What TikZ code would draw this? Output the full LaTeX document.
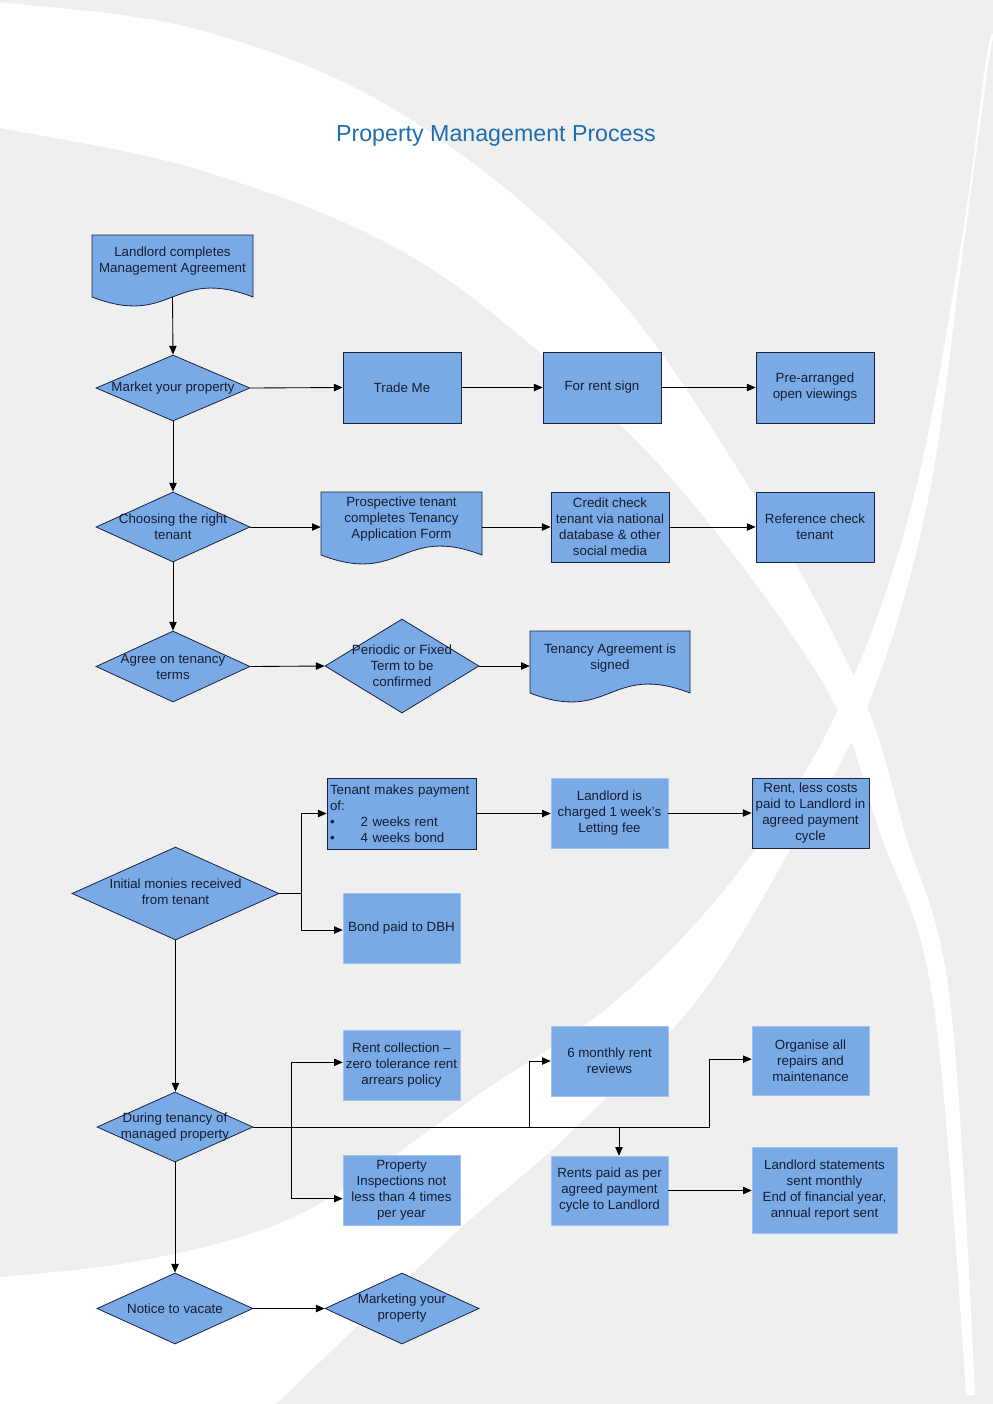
\documentclass[tikz,border=0pt]{standalone}
\usepackage{fontspec}
\setmainfont{Liberation Sans}
\usetikzlibrary{shapes.geometric,arrows.meta,calc}
\definecolor{bg}{RGB}{239,239,239}
\definecolor{boxblue}{RGB}{122,170,230}
\definecolor{navy}{RGB}{25,35,65}
\definecolor{txt}{RGB}{20,28,50}
\definecolor{edgeblue}{RGB}{160,195,240}
\definecolor{titleblue}{RGB}{30,110,175}
\newcommand{\docpath}[4]{%
  \draw[docshape] (#1,#3) -- (#2,#3) -- (#2,#4)
    .. controls ({(#1+#2)/2},{#4-31}) and ({(#1+#2)/2},{#4+31}) .. (#1,#4) -- cycle;}
\begin{document}
\begin{tikzpicture}[x=0.75pt,y=-0.75pt,
  base/.style={font=\fontsize{10}{12}\selectfont, text=txt, align=center, inner sep=0pt},
  sz/.style 2 args={minimum width=#1*0.75pt, minimum height=#2*0.75pt},
  bbox/.style={base, rectangle, fill=boxblue, draw=navy, line width=0.6pt},
  nbox/.style={base, rectangle, fill=boxblue, draw=edgeblue, line width=0.4pt},
  dia/.style={diamond, fill=boxblue, draw=navy, line width=0.6pt, inner sep=0pt},
  docshape/.style={fill=boxblue, draw=navy, line width=0.6pt},
  lbl/.style={base},
  conn/.style={line width=0.65pt},
  arr/.style={line width=0.65pt, -{Triangle[length=6.5pt,width=5.5pt]}}]
\useasboundingbox (0,0) rectangle (993,1404);
% background
\fill[bg] (0,0) rectangle (993,1404);
\fill[white] plot[smooth, tension=0.6] coordinates {(-5,1) (0,2) (200,30) (400,113) (600,277) (757,500) (860,690) (905,833) (950,1000) (975,1395)}
  -- plot[smooth, tension=0.6] coordinates {(966,1395) (933,1000) (880,833) (827,690) (690,500) (560,370) (400,250) (200,170) (0,128) (-5,128)} -- cycle;
\fill[white] plot[smooth, tension=0.6] coordinates {(993,35) (986,60) (960,250) (913,500) (843,700) (740,870) (617,1000) (481,1093) (348,1187) (253,1233) (127,1263) (0,1277) (-5,1277)}
  -- (-5,1410) -- plot[smooth, tension=0.6] coordinates {(270,1410) (350,1333) (462,1227) (570,1133) (697,1000) (790,850) (870,700) (928,500) (963,250) (989,60) (993,45)} -- cycle;
% title
\node[font=\fontsize{17.4}{20}\selectfont, text=titleblue, inner sep=0pt] (title) at (496,136) {Property Management Process};
% document shapes
\docpath{92}{253}{235}{297}
\docpath{321}{482}{492}{555}
\docpath{530}{690}{631}{693}
\node[lbl, sz={161}{10}] (d1) at (172.5,261) {Landlord completes\\Management Agreement};
\coordinate (d1b) at (172.5,297);
\node[lbl, sz={161}{10}] (d2) at (401.5,519) {Prospective tenant\\completes Tenancy\\Application Form};
\node[lbl, sz={160}{10}] (d3) at (610,658) {Tenancy Agreement is\\signed};
% diamonds
\node[dia, sz={154}{66}] (dmk) at (173,388) {};
\node[lbl] (dmkt) at (dmk) {Market your property};
\node[dia, sz={154}{70}] (dch) at (173,527) {};
\node[lbl] (dcht) at (dch) {Choosing the right\\tenant};
\node[dia, sz={154}{71}] (dag) at (173,666.5) {};
\node[lbl] (dagt) at (dag) {Agree on tenancy\\terms};
\node[dia, sz={154}{94}] (dpf) at (402,666) {};
\node[lbl] (dpft) at (dpf) {Periodic or Fixed\\Term to be\\confirmed};
\node[dia, sz={207}{93}] (dim) at (175.5,893.5) {};
\node[lbl] (dimt) at (175.5,892) {Initial monies received\\from tenant};
\node[dia, sz={156}{70}] (ddt) at (175,1127) {};
\node[lbl] (ddtt) at (ddt) {During tenancy of\\managed property};
\node[dia, sz={156}{71}] (dnv) at (175,1308.5) {};
\node[lbl] (dnvt) at (dnv) {Notice to vacate};
\node[dia, sz={154}{71}] (dmp) at (402,1308.5) {};
\node[lbl] (dmpt) at (dmp) {Marketing your\\property};
% boxes
\node[bbox, sz={118}{71}] (tm) at (402,387.5) {Trade Me};
\node[bbox, sz={118}{71}] (fr) at (602,387.5) {For rent sign};
\node[bbox, sz={118}{71}] (pa) at (815,387.5) {Pre-arranged\\open viewings};
\node[bbox, sz={118}{70}] (cc) at (610,527) {Credit check\\tenant via national\\database \& other\\social media};
\node[bbox, sz={118}{70}] (rc) at (815,527) {Reference check\\tenant};
\node[bbox, sz={149}{71}, text width=143*0.75pt, align=left] (pm) at (401.5,813.5)
  {Tenant makes payment\\of:\\\makebox[23pt][l]{\textbullet}2 weeks rent\\\makebox[23pt][l]{\textbullet}4 weeks bond};
\node[nbox, sz={117}{70}] (lc) at (609.5,813) {Landlord is\\charged 1 week’s\\Letting fee};
\node[bbox, sz={117}{70}] (rl) at (810.5,813) {Rent, less costs\\paid to Landlord in\\agreed payment\\cycle};
\node[nbox, sz={117}{70}] (bd) at (401.5,928) {Bond paid to DBH};
\node[nbox, sz={117}{70}] (rcol) at (401.5,1065) {Rent collection –\\zero tolerance rent\\arrears policy};
\node[nbox, sz={117}{70}] (pi) at (401.5,1190) {Property\\Inspections not\\less than 4 times\\per year};
\node[nbox, sz={117}{70}] (mr) at (609.5,1061) {6 monthly rent\\reviews};
\node[nbox, sz={117}{69}] (or) at (810.5,1060.5) {Organise all\\repairs and\\maintenance};
\node[nbox, sz={117}{69}] (rp) at (609.5,1190.5) {Rents paid as per\\agreed payment\\cycle to Landlord};
\node[nbox, sz={145}{86}] (ls) at (824.5,1190) {Landlord statements\\sent monthly\\End of financial year,\\annual report sent};
% connectors
\draw[arr] (d1b) -- (dmk.north);
\draw[arr] (dmk.east) -- (tm.west);
\draw[arr] (tm.east) -- (fr.west);
\draw[arr] (fr.east) -- (pa.west);
\draw[arr] (dmk.south) -- (dch.north);
\draw[arr] (dch.east) -- (dch.east -| d2.west);
\draw[arr] (cc.west -| d2.east) -- (cc.west);
\draw[arr] (cc.east) -- (rc.west);
\draw[arr] (dch.south) -- (dag.north);
\draw[arr] (dag.east) -- (dpf.west);
\draw[arr] (dpf.east) -- (dpf.east -| d3.west);
\coordinate (j1) at (301,893.5);
\draw[conn] (dim.east) -- (j1);
\draw[arr] (j1) |- (pm.west);
\draw[arr] (j1) |- ([yshift=-1.5pt]bd.west);
\draw[arr] (pm.east) -- (pm.east -| lc.west);
\draw[arr] (lc.east) -- (rl.west);
\draw[arr] (dim.south) -- (dim.south |- ddt.north);
\coordinate (j2) at (291,1127);
\coordinate (j3) at (529,1127);
\coordinate (j4) at (619,1127);
\coordinate (j5) at (709,1127);
\draw[arr] (ddt.east) -- (j5) |- ([yshift=1pt]or.west);
\draw[arr] (j2) |- ([yshift=2pt]rcol.west);
\draw[arr] (j2) |- ([yshift=-6.5pt]pi.west);
\draw[arr] (j3) |- (mr.west);
\draw[arr] (j4) -- (j4 |- rp.north);
\draw[arr] (rp.east) -- (rp.east -| ls.west);
\draw[arr] (ddt.south) -- (dnv.north);
\draw[arr] (dnv.east) -- (dmp.west);
\end{tikzpicture}
\end{document}
